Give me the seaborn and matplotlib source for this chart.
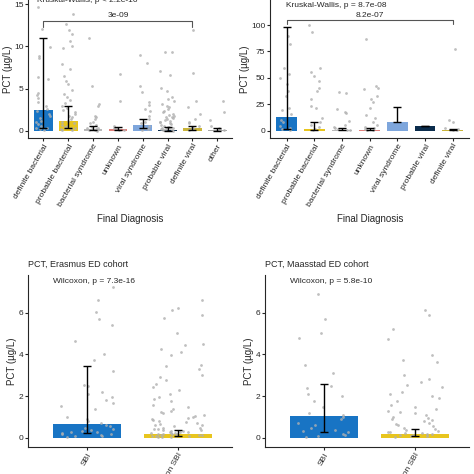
import matplotlib
matplotlib.use("Agg")
import matplotlib.pyplot as plt
import seaborn as sns
import pandas as pd
import numpy as np

sns.set_style("ticks")
plt.rcParams['font.family'] = ['Liberation Sans', 'DejaVu Sans']

# ---- Panel A (top left) ----
cats_a = ["definite bacterial", "probable bacterial", "bacterial syndrome", "unknown",
          "viral syndrome", "probable viral", "definite viral", "other"]
colors_a = ["#1874c4", "#e8c51e", "#b8b8b8", "#e07f7a", "#7ea6dc", "#0b2c4c", "#c9b43a", "#a8a8a8"]
bar_a = [2.45, 1.15, 0.2, 0.2, 0.7, 0.15, 0.3, 0.1]
lo_a = [0.3, 0.3, 0.1, 0.1, 0.3, 0.05, 0.1, 0.05]
hi_a = [11.0, 3.0, 0.6, 0.5, 1.4, 0.5, 0.6, 0.3]
pts_a = {
    "definite bacterial": [12.1, 9.9, 8.9, 8.6, 6.4, 6.2, 4.5, 4.2, 3.9, 3.4, 2.9, 2.6, 2.3, 2.0, 1.8, 1.5, 1.2, 1.0, 0.8, 0.6, 0.4, 0.3, 0.2, 0.1, 14.7],
    "probable bacterial": [13.9, 12.7, 12.0, 11.5, 10.6, 10.1, 9.8, 7.9, 7.3, 6.5, 5.9, 5.5, 4.8, 4.4, 4.0, 3.7, 3.3, 3.0, 2.7, 2.5, 2.2, 2.0, 1.8, 1.6, 1.4, 1.2, 1.0, 0.9, 0.7, 0.6, 0.5, 0.4, 0.3, 0.2, 0.1, 0.1],
    "bacterial syndrome": [11.0, 5.3, 3.2, 3.0, 1.8, 1.6, 1.4, 1.1, 0.9, 0.7, 0.5, 0.4, 0.3, 0.2, 0.1, 0.1, 0.05],
    "unknown": [6.7, 3.6, 0.6, 0.4, 0.3, 0.2, 0.1, 0.1],
    "viral syndrome": [9.0, 8.1, 5.3, 4.6, 3.4, 3.1, 2.6, 2.3, 1.8, 1.4, 1.1, 0.9, 0.6, 0.4, 0.2, 0.1],
    "probable viral": [9.4, 9.3, 7.1, 6.6, 5.1, 4.7, 4.0, 3.8, 3.5, 3.2, 3.0, 2.8, 2.6, 2.4, 2.2, 2.0, 1.9, 1.8, 1.7, 1.6, 1.5, 1.4, 1.3, 1.2, 1.1, 1.0, 0.9, 0.8, 0.7, 0.6, 0.5, 0.5, 0.4, 0.4, 0.3, 0.3, 0.2, 0.2, 0.1, 0.1, 0.1, 0.05],
    "definite viral": [12.0, 6.9, 3.5, 2.8, 2.0, 1.4, 1.1, 0.9, 0.6, 0.4, 0.3, 0.2, 0.1],
    "other": [3.6, 2.2, 1.3, 0.6, 0.3, 0.2, 0.1],
}

# ---- Panel B (top right) ----
cats_b = ["definite bacterial", "probable bacterial", "bacterial syndrome", "unknown",
          "viral syndrome", "probable viral", "definite viral"]
colors_b = ["#1874c4", "#e8c51e", "#b8b8b8", "#e07f7a", "#7ea6dc", "#0b2c4c", "#c9b43a"]
bar_b = [13.5, 1.5, 1.0, 1.0, 8.5, 4.5, 0.8]
lo_b = [1.5, 0.5, 0.5, 0.5, 8.0, 4.5, 0.5]
hi_b = [98.0, 8.0, 2.5, 2.5, 23.0, 4.5, 1.5]
pts_b = {
    "definite bacterial": [82, 59, 54, 50, 44, 38, 33, 22, 20, 16, 10, 8, 5, 3, 2, 1, 90],
    "probable bacterial": [100, 93, 59, 56, 52, 47, 41, 38, 30, 24, 22, 12, 8, 6, 4, 2, 1],
    "bacterial syndrome": [37, 36, 21, 18, 17, 9, 6, 4, 3, 2, 1, 0.5],
    "unknown": [87, 42, 41, 40, 33, 30, 27, 22, 15, 12, 8, 6, 4, 3, 2, 1, 0.5],
    "viral syndrome": [],
    "probable viral": [],
    "definite viral": [77, 10, 8, 3, 2, 1, 0.5],
}

# ---- Panels C and D (bottom) ----
cats_c = ["SBI", "non SBI"]
colors_c = ["#1874c4", "#e8c51e"]
bar_c = [0.65, 0.18]
lo_c = [0.25, 0.1]
hi_c = [3.45, 0.38]
pts_c = {
    "SBI": [7.2, 6.6, 6.05, 5.7, 5.4, 4.65, 4.0, 3.75, 3.2, 2.55, 2.5, 2.2, 2.1, 1.95, 1.8, 1.65, 1.55, 1.4, 1.0, 0.9, 0.8, 0.7, 0.6, 0.55, 0.5, 0.45, 0.4, 0.35, 0.3, 0.3, 0.25, 0.2, 0.2, 0.15, 0.1, 0.1, 0.05],
    "non SBI": [6.6, 6.2, 6.1, 5.9, 5.75, 5.0, 4.5, 4.45, 4.25, 4.1, 3.95, 3.5, 3.45, 3.3, 3.0, 2.9, 2.75, 2.6, 2.45, 2.3, 2.1, 1.95, 1.85, 1.75, 1.6, 1.5, 1.4, 1.3, 1.25, 1.2, 1.1, 1.05, 1.0, 0.95, 0.9, 0.85, 0.8, 0.75, 0.7, 0.65, 0.6, 0.6, 0.55, 0.5, 0.5, 0.45, 0.45, 0.4, 0.4, 0.35, 0.35, 0.3, 0.3, 0.3, 0.25, 0.25, 0.25, 0.2, 0.2, 0.2, 0.2, 0.15, 0.15, 0.15, 0.1, 0.1, 0.1, 0.1, 0.05, 0.05, 0.05],
}
bar_d = [1.05, 0.18]
lo_d = [0.28, 0.1]
hi_d = [2.6, 0.42]
pts_d = {
    "SBI": [6.9, 5.7, 5.0, 4.8, 3.5, 3.1, 2.5, 2.4, 2.1, 2.0, 1.75, 1.5, 1.2, 1.1, 1.0, 0.9, 0.7, 0.6, 0.5, 0.4, 0.35, 0.3, 0.2, 0.15, 0.1, 0.05],
    "non SBI": [6.1, 5.9, 5.2, 4.75, 3.95, 3.75, 3.65, 3.0, 2.8, 2.7, 2.55, 2.45, 2.2, 2.1, 2.0, 1.9, 1.75, 1.6, 1.5, 1.4, 1.3, 1.25, 1.2, 1.1, 1.0, 0.95, 0.9, 0.85, 0.8, 0.7, 0.65, 0.6, 0.55, 0.5, 0.45, 0.4, 0.35, 0.3, 0.3, 0.25, 0.25, 0.2, 0.2, 0.15, 0.15, 0.1, 0.1, 0.05],
}


def panel(ax, cats, colors, bars, lo, hi, pts, ylim, yticks, xrot, xlabel):
    dfb = pd.DataFrame({"cat": cats, "val": bars})
    sns.barplot(data=dfb, x="cat", y="val", hue="cat", palette=colors, order=cats,
                width=0.75, ax=ax, legend=False, edgecolor="none", saturation=1)
    rows = [(c, v) for c in cats for v in pts[c]]
    dfp = pd.DataFrame(rows, columns=["cat", "val"])
    sns.stripplot(data=dfp, x="cat", y="val", order=cats, color="#b0b0b0", size=2,
                  jitter=0.3, alpha=0.8, ax=ax, zorder=3)
    xs = np.arange(len(cats))
    l = np.array(lo); h = np.array(hi)
    ax.errorbar(xs, l, yerr=[np.zeros_like(l), h - l], fmt="none", ecolor="black",
                elinewidth=1, capsize=3, zorder=4)
    ax.set_ylim(*ylim)
    ax.set_xlim(-0.6, len(cats) - 0.4)
    ax.set_yticks(yticks)
    ax.set_ylabel("PCT (µg/L)", fontsize=7, labelpad=1)
    ax.set_xlabel(xlabel, fontsize=7)
    ax.tick_params(labelsize=6, length=2, pad=1.5)
    plt.setp(ax.get_xticklabels(), rotation=xrot, ha="right", rotation_mode="anchor")
    for s in ["top", "right"]:
        ax.spines[s].set_visible(False)


fig = plt.figure(figsize=(4.74, 4.74), dpi=100)
ax1 = fig.add_axes([0.06, 0.709, 0.43, 0.291])
panel(ax1, cats_a, colors_a, bar_a, lo_a, hi_a, pts_a, (-0.83, 15.5), [0, 5, 10, 15], 60, "Final Diagnosis")
ax1.text(0.04, 1.0, "Kruskal-Wallis, p < 2.2e-16", transform=ax1.transAxes, fontsize=6, va="center")
ax1.plot([0, 0, 6, 6], [12.3, 13.0, 13.0, 12.3], color="#555555", lw=0.8)
ax1.text(3, 13.2, "3e-09", ha="center", va="bottom", fontsize=6)

ax2 = fig.add_axes([0.57, 0.709, 0.42, 0.291])
panel(ax2, cats_b, colors_b, bar_b, lo_b, hi_b, pts_b, (-6.6, 123.6), [0, 25, 50, 75, 100], 60, "Final Diagnosis")
ax2.text(0.08, 0.96, "Kruskal-Wallis, p = 8.7e-08", transform=ax2.transAxes, fontsize=6, va="center")
ax2.plot([0, 0, 6, 6], [101, 105, 105, 101], color="#555555", lw=0.8)
ax2.text(3, 106, "8.2e-07", ha="center", va="bottom", fontsize=6)

ax3 = fig.add_axes([0.06, 0.057, 0.43, 0.363])
panel(ax3, cats_c, colors_c, bar_c, lo_c, hi_c, pts_c, (-0.43, 7.8), [0, 2, 4, 6], 60, "")
ax3.set_xlim(-0.65, 1.6)
ax3.text(0.0, 1.06, "PCT, Erasmus ED cohort", transform=ax3.transAxes, fontsize=6.5, va="center")
ax3.text(0.12, 0.96, "Wilcoxon, p = 7.3e-16", transform=ax3.transAxes, fontsize=6, va="center")

ax4 = fig.add_axes([0.56, 0.057, 0.43, 0.363])
panel(ax4, cats_c, colors_c, bar_d, lo_d, hi_d, pts_d, (-0.43, 7.8), [0, 2, 4, 6], 60, "")
ax4.set_xlim(-0.65, 1.6)
ax4.text(0.0, 1.06, "PCT, Maasstad ED cohort", transform=ax4.transAxes, fontsize=6.5, va="center")
ax4.text(0.12, 0.96, "Wilcoxon, p = 5.8e-10", transform=ax4.transAxes, fontsize=6, va="center")

fig.savefig("out.png", dpi=100)
